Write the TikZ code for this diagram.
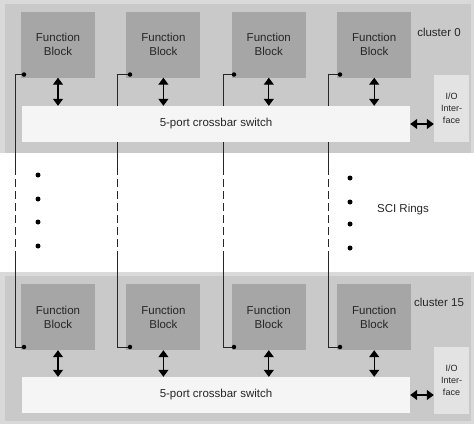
\documentclass[tikz,border=0pt]{standalone}
\usepackage{fontspec}
\setmainfont{Liberation Sans}
\definecolor{clusterbg}{gray}{0.79}
\definecolor{clusterrim}{gray}{0.85}
\definecolor{blockgray}{gray}{0.65}
\definecolor{xbargray}{gray}{0.96}
\definecolor{iogray}{gray}{0.89}
\definecolor{textgray}{gray}{0.15}
\tikzset{
     arrow/.style={{Triangle[length=7pt,width=10pt]}-{Triangle[length=7pt,width=10pt]},line width=1.2pt},
     funcblock/.style={rectangle,fill=blockgray,align=center,minimum width=74pt,minimum height=66pt,inner sep=0pt,text=textgray,font=\fontsize{11.5}{14}\selectfont},
     xbar/.style={rectangle,fill=xbargray,minimum width=388pt,minimum height=36pt,inner sep=0pt,text=textgray,font=\fontsize{11.5}{14}\selectfont},
     ioface/.style={rectangle,fill=iogray,align=center,minimum width=35pt,minimum height=67pt,inner sep=0pt,text=textgray,font=\fontsize{9}{12}\selectfont},
     tag/.style={text=textgray,font=\fontsize{11.5}{14}\selectfont},
     port/.style={circle,fill=black,minimum size=4.5pt,inner sep=0pt},
     ring/.style={line width=1pt,draw=black!85},
     ringgap/.style={dash pattern=on 8pt off 4pt}
     }
\usetikzlibrary{positioning,arrows.meta}

\begin{document}
\begin{tikzpicture}[x=1pt,y=-1pt]
            \useasboundingbox (0,0) rectangle (474,424);
            % Cluster backgrounds
            \fill[clusterrim] (0,0) rectangle (474,153);
            \fill[clusterbg] (5,4) rectangle (471,153);
            \fill[clusterrim] (0,272) rectangle (474,424);
            \fill[clusterbg] (5,276) rectangle (471,421);
            % Place function blocks
            \node[funcblock] (fb0a) at (58,44.5) {Function\\Block};
            \node[funcblock] [right=31pt of fb0a] (fb0b) {Function\\Block};
            \node[funcblock] [right=31pt of fb0b] (fb0c) {Function\\Block};
            \node[funcblock] [right=31pt of fb0c] (fb0d) {Function\\Block};
            \node[funcblock] (fb15a) at (58,317) {Function\\Block};
            \node[funcblock] [right=31pt of fb15a] (fb15b) {Function\\Block};
            \node[funcblock] [right=31pt of fb15b] (fb15c) {Function\\Block};
            \node[funcblock] [right=31pt of fb15c] (fb15d) {Function\\Block};
            % Ring ports
            \node[port] (p1top) at (24,74.5) {};
            \node[port] (p2top) at (130,74.5) {};
            \node[port] (p3top) at (234,74.5) {};
            \node[port] (p4top) at (340,74.5) {};
            \node[port] (p1bot) at (24,347) {};
            \node[port] (p2bot) at (130,347) {};
            \node[port] (p3bot) at (234,347) {};
            \node[port] (p4bot) at (340,347) {};
            \coordinate (r1a) at (15,167);  \coordinate (r1b) at (15,255);
            \coordinate (r2a) at (117,167); \coordinate (r2b) at (117,258);
            \coordinate (r3a) at (223,167); \coordinate (r3b) at (223,258);
            \coordinate (r4a) at (328,167); \coordinate (r4b) at (328,258);
            % Draw SCI rings
            \draw[ring] (p1top) -| (r1a);
            \draw[ring,ringgap] (r1a) -- (r1b);
            \draw[ring] (r1b) |- (p1bot);
            \draw[ring] (p2top) -| (r2a);
            \draw[ring,ringgap] (r2a) -- (r2b);
            \draw[ring] (r2b) |- (p2bot);
            \draw[ring] (p3top) -| (r3a);
            \draw[ring,ringgap] (r3a) -- (r3b);
            \draw[ring] (r3b) |- (p3bot);
            \draw[ring] (p4top) -| (r4a);
            \draw[ring,ringgap] (r4a) -- (r4b);
            \draw[ring] (r4b) |- (p4bot);
            % Crossbars and I/O
            \node[xbar] (xbar0) at (216,124) {5-port crossbar switch};
            \node[ioface] (io0) at (451.5,108.5) {I/O\\Inter-\\face};
            \node[xbar] (xbar15) at (216,395) {5-port crossbar switch};
            \node[ioface] (io15) at (451.5,380) {I/O\\Inter-\\face};
            % Labels
            \node[tag] (cl0) at (439,32) {cluster 0};
            \node[tag] (cl15) at (439,302) {cluster 15};
            \node[tag] (sci) at (403,210) {SCI Rings};
            % Dots
            \node[port,minimum size=5pt] (dl1) at (38,175) {};
            \node[port,minimum size=5pt] (dl2) at (38,199) {};
            \node[port,minimum size=5pt] (dl3) at (38,222) {};
            \node[port,minimum size=5pt] (dl4) at (38,246) {};
            \node[port,minimum size=5pt] (dr1) at (350,178) {};
            \node[port,minimum size=5pt] (dr2) at (350,202) {};
            \node[port,minimum size=5pt] (dr3) at (350,224) {};
            \node[port,minimum size=5pt] (dr4) at (350,248) {};
            % Draw edges
            \draw[arrow] (fb0a.south) -- (fb0a.south |- xbar0.north);
            \draw[arrow] (fb0b.south) -- (fb0b.south |- xbar0.north);
            \draw[arrow] (fb0c.south) -- (fb0c.south |- xbar0.north);
            \draw[arrow] (fb0d.south) -- (fb0d.south |- xbar0.north);
            \draw[arrow] (xbar0.east) -- (io0.west |- xbar0.east);
            \draw[arrow] (fb15a.south) -- (fb15a.south |- xbar15.north);
            \draw[arrow] (fb15b.south) -- (fb15b.south |- xbar15.north);
            \draw[arrow] (fb15c.south) -- (fb15c.south |- xbar15.north);
            \draw[arrow] (fb15d.south) -- (fb15d.south |- xbar15.north);
            \draw[arrow] (xbar15.east) -- (io15.west |- xbar15.east);
        \end{tikzpicture}
\end{document}
